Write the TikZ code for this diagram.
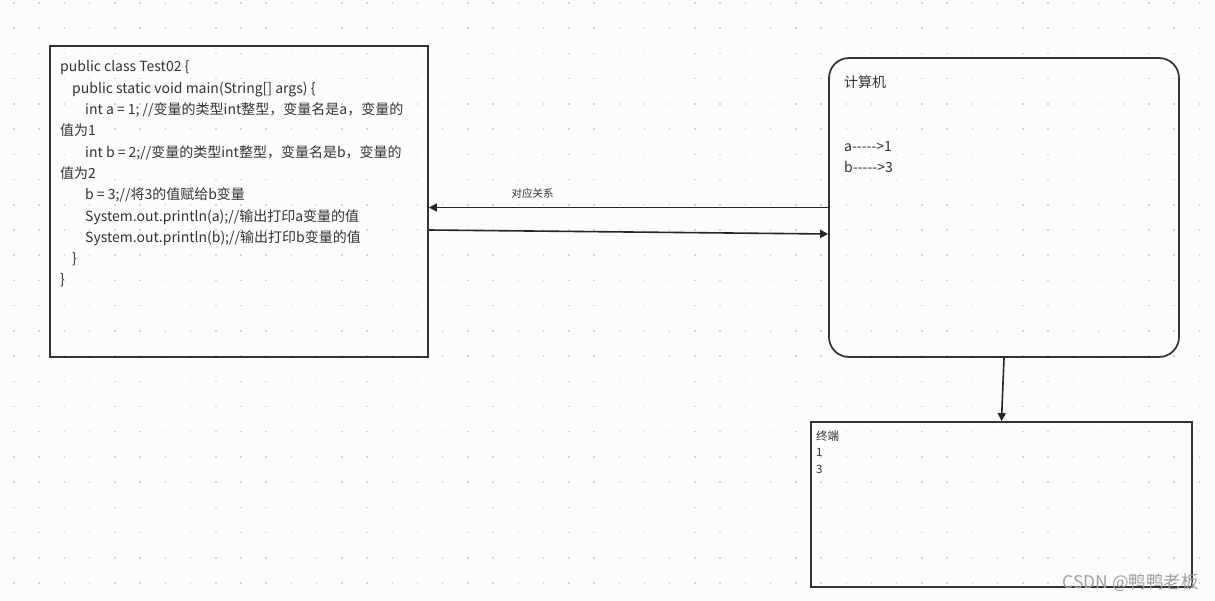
\documentclass[tikz,border=0pt]{standalone}
\usepackage{fontspec}
\setmainfont{Noto Sans CJK SC}[Ligatures=TeXOff]
\usetikzlibrary{arrows.meta}
\definecolor{bgc}{HTML}{FCFCFC}
\definecolor{dotc}{HTML}{D2D2D2}
\definecolor{linec}{HTML}{333333}
\definecolor{txtc}{HTML}{333333}
\definecolor{wmc}{HTML}{A0A0A0}
\tikzset{
  box/.style={draw=linec, line width=1.7pt, inner sep=0pt},
  codetxt/.style={anchor=base west, inner sep=0pt, text=txtc, font=\fontsize{14}{17}\selectfont},
  smalltxt/.style={anchor=base west, inner sep=0pt, text=txtc, font=\fontsize{11.5}{14}\selectfont},
  conn/.style={draw=black!85, line width=1.6pt, -{Triangle[length=8pt,width=8pt]}},
}
\begin{document}
\begin{tikzpicture}[x=1pt,y=-1pt]
\useasboundingbox (0,0) rectangle (1215,601);
\fill[bgc] (0,0) rectangle (1215,601);
\foreach \i in {0,...,48}
  \foreach \j in {0,...,23}
    \fill[dotc] ({14+25.22*\i-0.75},{3+25.22*\j-0.75}) rectangle ++(1.5,1.5);

% boxes
\node[box, minimum width=378pt, minimum height=311pt] (code) at (239,201.5) {};
\node[box, rounded corners=20pt, minimum width=350pt, minimum height=299pt] (comp) at (1004,207.5) {};
\node[box, minimum width=381pt, minimum height=165pt] (term) at (1001.5,504.5) {};

% code text
\node[codetxt] (c1) at (60,72) {public class Test02 \{};
\node[codetxt] (c2) at (72,93.3) {public static void main(String[] args) \{};
\node[codetxt] (c3) at (85,114.6) {int a = 1; //变量的类型int整型，变量名是a，变量的};
\node[codetxt] (c4) at (60,136) {值为1};
\node[codetxt] (c5) at (85,157.2) {int b = 2;//变量的类型int整型，变量名是b，变量的};
\node[codetxt] (c6) at (60,178.5) {值为2};
\node[codetxt] (c7) at (85,199.8) {b = 3;//将3的值赋给b变量};
\node[codetxt] (c8) at (85,221.1) {System.out.println(a);//输出打印a变量的值};
\node[codetxt] (c9) at (85,242.4) {System.out.println(b);//输出打印b变量的值};
\node[codetxt] (c10) at (72,263.7) {\}};
\node[codetxt] (c11) at (60,285) {\}};

% computer text
\node[codetxt] (k1) at (844,88) {计算机};
\node[codetxt] (k2) at (844,152) {a-----\textgreater1};
\node[codetxt] (k3) at (844,173) {b-----\textgreater3};

% terminal text
\node[smalltxt] (t1) at (816,440) {终端};
\node[smalltxt] (t2) at (816,456.5) {1};
\node[smalltxt] (t3) at (816,473.5) {3};

% connectors
\draw[conn] (comp.west) -- (code.east |- comp.west) node[pos=0.74, above=5pt, text=txtc, font=\fontsize{10.5}{12}\selectfont] (lab) {对应关系};
\draw[conn] ([yshift=-28.5pt]code.east) -- ([yshift=-26.5pt]comp.west);
\draw[conn] (comp.south) -- (term.north);

% watermark
\node[anchor=base east, inner sep=0pt, text=wmc, font=\fontsize{17.5}{20}\selectfont] (wm) at (1199,588) {CSDN @鸭鸭老板};
\end{tikzpicture}
\end{document}
